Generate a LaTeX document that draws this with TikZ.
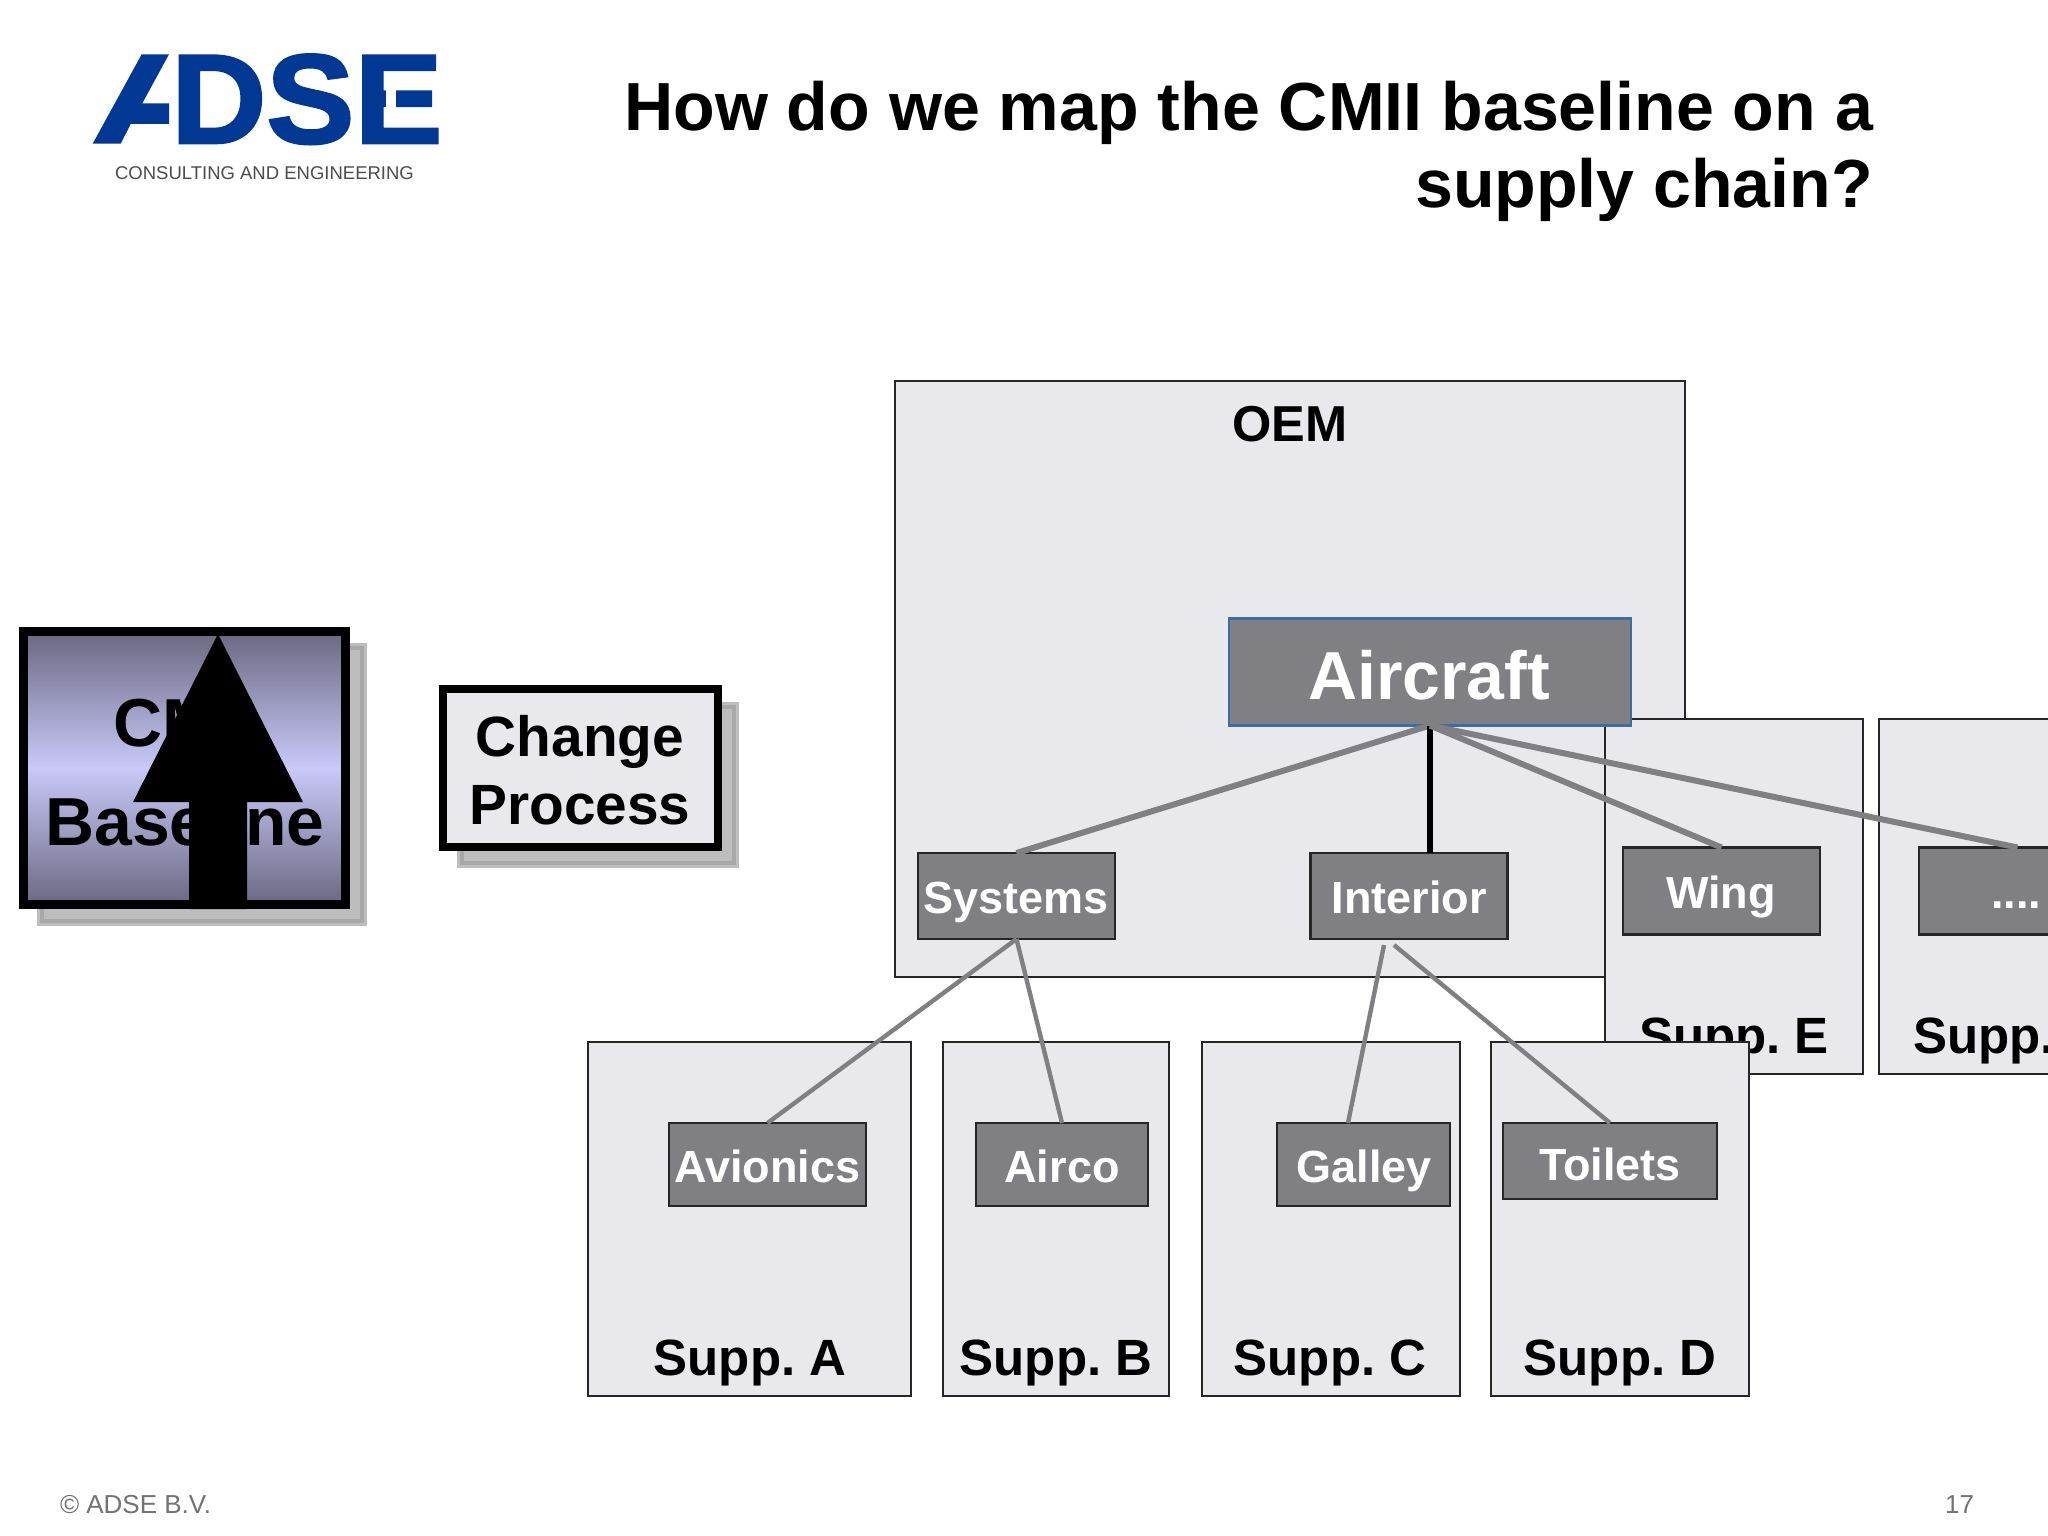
\documentclass[tikz,border=0pt]{standalone}
\usepackage{fontspec}
\setmainfont{Liberation Sans}
\frenchspacing
\definecolor{panel}{HTML}{E9E8EC}
\definecolor{item}{HTML}{807F83}
\definecolor{linkgray}{HTML}{808084}
\definecolor{logoblue}{HTML}{003893}
\definecolor{shadowfill}{HTML}{BDBDBD}
\definecolor{shadowline}{HTML}{A8A8A8}
\definecolor{gradend}{HTML}{6A6880}
\definecolor{gradmid}{HTML}{C9C9FA}
\definecolor{airblue}{HTML}{3B6EA5}
\newcommand{\fs}[1]{\fontsize{#1}{#1}\selectfont}
\tikzset{
  x=1pt,y=-1pt,
  box/.style={rectangle,inner sep=0pt,outer sep=0pt},
  panelbox/.style={box,draw=black!85,line width=2.2pt,fill=panel},
  itembox/.style={box,draw=black!85,line width=2.4pt,fill=item},
  shadowback/.style={box,fill=shadowfill},
  shadowbox/.style={box,draw=shadowline,line width=4pt,fill=shadowfill},
  heavybox/.style={box,draw=black,line width=8.6pt},
  lab/.style={inner sep=0pt,outer sep=0pt,anchor=base,font=\bfseries},
  whitelab/.style={lab,text=white},
  linkthick/.style={draw=linkgray,line width=6pt},
  linkthin/.style={draw=linkgray,line width=4.4pt},
}
\begin{document}
\begin{tikzpicture}
\useasboundingbox (0,0) rectangle (2048,1536);
\clip (0,0) rectangle (2048,1536);
\fill[white] (0,0) rectangle (2048,1536);
% logo
\fill[logoblue] (141.7,54.3)--(169,54.3)--(142.3,103.3)--(169,103.3)--(169,124)--(130.7,124)--(120.7,143.7)--(92.7,143.7)--cycle;
\node[lab,text=logoblue,anchor=base west,font=\fs{127}\bfseries] (logotext) at (171,143) {\addfontfeature{FakeStretch=1.04,FakeBold=2}DSE};
\fill[white] (385.5,84) rectangle (396,114);
\node[lab,font=\fs{18.5},text=black!70] (logosub) at (264.5,179) {CONSULTING AND ENGINEERING};
% title
\node[inner sep=0pt,outer sep=0pt,anchor=base east,align=right,font={\fontsize{68.1}{77}\selectfont\bfseries}] (title) at (1873,207) {How do we map the CMII baseline on a\\supply chain?};
% left boxes
\node[shadowback,minimum width=330,minimum height=283] (cmshadowback) at (202,784.5) {};
\node[shadowbox,minimum width=320,minimum height=273] (cmshadow) at (202,784.5) {};
\node[heavybox,top color=gradend,bottom color=gradend,middle color=gradmid,minimum width=322,minimum height=273] (cm) at (184.5,768) {};
\node[inner sep=0pt,outer sep=0pt,anchor=base,align=center,font={\fontsize{67.9}{99}\selectfont\bfseries}] (cmtext) at (185,845) {CMII\\Baseline};
\fill[black] (218,634)--(303,802)--(247,802)--(247,909)--(189,909)--(189,802)--(133,802)--cycle;
\node[shadowback,minimum width=282,minimum height=166] (chshadowback) at (598,785) {};
\node[shadowbox,minimum width=272,minimum height=156] (chshadow) at (598,785) {};
\node[heavybox,fill=panel,minimum width=275,minimum height=158] (change) at (580.5,768) {};
\node[inner sep=0pt,outer sep=0pt,anchor=base,align=center,font={\fontsize{56.8}{68}\selectfont\bfseries}] (changetext) at (580,824) {Change\\Process};
% panels
\node[panelbox,minimum width=790,minimum height=596] (oem) at (1290,679) {};
\node[lab,font=\fs{50.5}\bfseries] (oemlab) at (1290,441.5) {OEM};
\node[panelbox,minimum width=258,minimum height=355] (suppe) at (1734,896.5) {};
\node[lab,font=\fs{51}\bfseries] (suppelab) at (1734,1053) {Supp. E};
\node[panelbox,minimum width=258,minimum height=355] (suppf) at (2008,896.5) {};
\node[lab,anchor=base west,font=\fs{51}\bfseries] (suppflab) at (1913,1053) {Supp.};
\node[panelbox,minimum width=323,minimum height=354] (suppa) at (749.5,1219) {};
\node[lab,font=\fs{51}\bfseries] (suppalab) at (750,1375.5) {Supp. A};
\node[panelbox,minimum width=226,minimum height=354] (suppb) at (1056,1219) {};
\node[lab,font=\fs{51}\bfseries] (suppblab) at (1056,1375.5) {Supp. B};
\node[panelbox,minimum width=258,minimum height=354] (suppc) at (1331,1219) {};
\node[lab,font=\fs{51}\bfseries] (suppclab) at (1330,1375.5) {Supp. C};
\node[panelbox,minimum width=258,minimum height=354] (suppd) at (1620,1219) {};
\node[lab,font=\fs{51}\bfseries] (suppdlab) at (1620,1375.5) {Supp. D};
% items
\node[box,draw=airblue,line width=2.2pt,fill=item,minimum width=402,minimum height=107] (aircraft) at (1430,672) {};
\node[whitelab,font=\fs{68}\bfseries] (aircraftlab) at (1429,699) {Aircraft};
\node[itembox,minimum width=197,minimum height=86] (systems) at (1016.5,896) {};
\node[whitelab,font=\fs{45}\bfseries] (systemslab) at (1016,913) {Systems};
\node[itembox,minimum width=197,minimum height=86] (interior) at (1409,896) {};
\node[whitelab,font=\fs{45}\bfseries] (interiorlab) at (1409,913) {Interior};
\node[itembox,minimum width=197,minimum height=87] (wing) at (1721.5,891) {};
\node[whitelab,font=\fs{45}\bfseries] (winglab) at (1721,908) {Wing};
\node[itembox,minimum width=197,minimum height=87] (dots) at (2017.5,891) {};
\node[whitelab,font=\fs{45}\bfseries] (dotslab) at (2016,908) {....};
\node[itembox,minimum width=197,minimum height=83] (avionics) at (767.5,1164.5) {};
\node[whitelab,font=\fs{45}\bfseries] (avionicslab) at (767.5,1182.5) {Avionics};
\node[itembox,minimum width=172,minimum height=83] (airco) at (1062,1164.5) {};
\node[whitelab,font=\fs{45}\bfseries] (aircolab) at (1062,1182.5) {Airco};
\node[itembox,minimum width=173,minimum height=83] (galley) at (1363.5,1164.5) {};
\node[whitelab,font=\fs{45}\bfseries] (galleylab) at (1364,1182.5) {Galley};
\node[itembox,minimum width=214,minimum height=76] (toilets) at (1610,1161) {};
\node[whitelab,font=\fs{45}\bfseries] (toiletslab) at (1610,1180) {Toilets};
% connectors
\coordinate (intbl) at (1384,945);
\coordinate (intbr) at (1394,945);
\coordinate (galleyend) at (1348,1123);
\draw[linkthick] (aircraft.south) -- (systems.north);
\draw[draw=black,line width=5.5pt] (aircraft.south) -- (interior.north -| aircraft.south);
\draw[linkthick] (aircraft.south) -- (wing.north);
\draw[linkthick] (aircraft.south) -- (dots.north);
\draw[linkthin] (systems.south) -- (avionics.north);
\draw[linkthin] (systems.south) -- (airco.north);
\draw[linkthin] (intbl) -- (galleyend);
\draw[linkthin] (intbr) -- (toilets.north);
% footer
\node[lab,anchor=base west,font=\fs{26},text=black!55] (copyright) at (60,1513) {© ADSE B.V.};
\node[lab,anchor=base east,font=\fs{26},text=black!55] (pageno) at (1974,1513) {17};
\end{tikzpicture}
\end{document}
